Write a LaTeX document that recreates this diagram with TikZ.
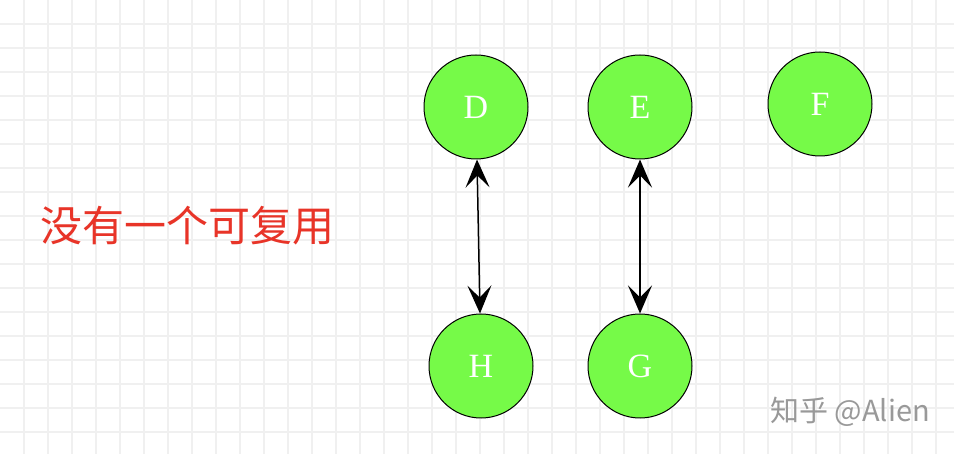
\documentclass[tikz,border=0pt]{standalone}
\usepackage{fontspec}
\setmainfont{Liberation Serif}
\newfontfamily\cjk{Noto Sans CJK SC}
\usetikzlibrary{arrows.meta}
\begin{document}
\begin{tikzpicture}[x=1pt,y=-1pt,
  vert/.style={circle,draw=black,line width=1pt,fill={rgb,255:red,118;green,250;blue,72},minimum size=104pt,inner sep=0pt,font=\fontsize{34}{34}\selectfont,text=white},
  link/.style={line width=1.5pt,{Stealth[length=28pt,width=24pt,inset=12pt]}-{Stealth[length=28pt,width=24pt,inset=12pt]}}]
\useasboundingbox (0,0) rectangle (954,454);
\fill[white] (0,0) rectangle (954,454);
\foreach \i in {1,...,39} {\draw[gray!12,line width=1.2pt] (\i*24,0) -- (\i*24,454);}
\foreach \j in {1,...,18} {\draw[gray!12,line width=1.2pt] (0,\j*24) -- (954,\j*24);}
\node[vert] (D) at (476,107) {D};
\node[vert] (E) at (640,107) {E};
\node[vert] (F) at (820,104) {F};
\node[vert] (H) at (481,366) {H};
\node[vert] (G) at (640,366) {G};
\draw[link] (H) -- (D);
\draw[link] (G) -- (E);
\node[text={rgb,255:red,232;green,52;blue,40},font=\cjk\fontsize{42}{42}\selectfont] (t) at (188,226) {没有一个可复用};
\node[text=gray!80,font=\cjk\fontsize{29}{29}\selectfont] (w) at (850,412) {知乎 @Alien};
\end{tikzpicture}
\end{document}
